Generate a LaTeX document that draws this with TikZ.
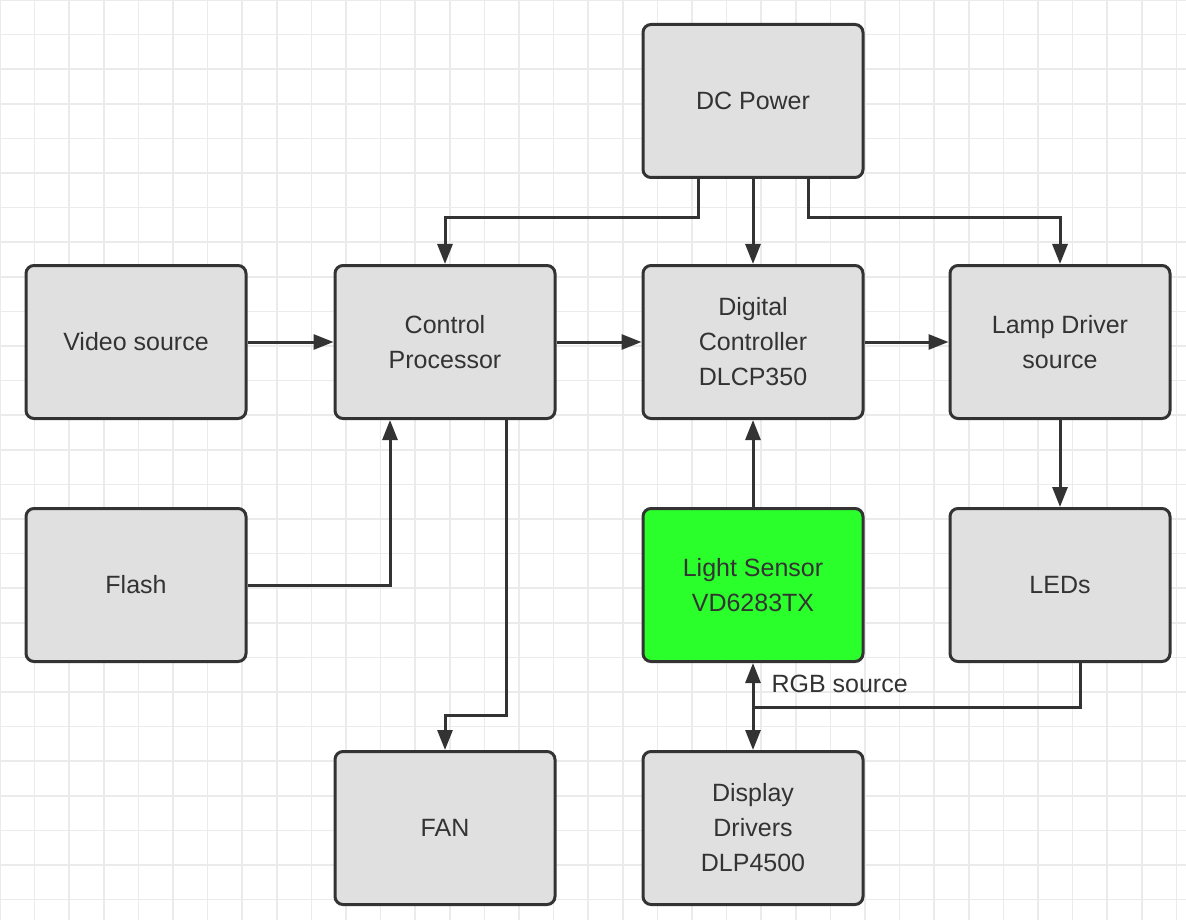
\documentclass[tikz,border=0pt]{standalone}
\usepackage{fontspec}
\setmainfont{Liberation Sans}
\usetikzlibrary{arrows.meta}
\begin{document}
\begin{tikzpicture}[x=1pt,y=-1pt,
  box/.style={draw=black!80,line width=3pt,rounded corners=8pt,fill=black!12,align=center,font=\fontsize{25}{35}\selectfont,text=black!80},
  ar/.style={draw=black!80,line width=3pt,-{Triangle[length=20pt,width=15pt]}}]
\useasboundingbox (0,0) rectangle (1186,920);
\fill[white] (0,0) rectangle (1186,920);
\foreach \x in {0,34.6,...,1186} \draw[black!8,line width=1.5pt] (\x,0) -- (\x,920);
\foreach \y in {0,34.6,...,920} \draw[black!8,line width=1.5pt] (0,\y) -- (1186,\y);
\newcommand{\bx}[4]{\node[box,minimum width=220pt,minimum height=153pt] (#1) at (#2,#3) {#4};}
\bx{dc}{753}{101}{DC Power}
\bx{vid}{136}{342}{Video source}
\bx{cp}{445}{342}{Control\\Processor}
\bx{dig}{753}{342}{Digital\\Controller\\DLCP350}
\bx{lamp}{1060}{342}{Lamp Driver\\source}
\bx{fl}{136}{585}{Flash}
\node[box,fill={rgb,255:red,43;green,255;blue,43},minimum width=220pt,minimum height=153pt] (ls) at (753,585) {Light Sensor\\VD6283TX};
\bx{led}{1060}{585}{LEDs}
\bx{fan}{445}{828}{FAN}
\bx{disp}{753}{828}{Display\\Drivers\\DLP4500}
\coordinate (j) at (753,707);
\draw[ar] (dc.south -| 698,0) |- (445,218) -- (cp.north -| 445,0);
\draw[ar] (dc) -- (dig);
\draw[ar] (dc.south -| 808,0) |- (1060,218) -- (lamp.north -| 1060,0);
\draw[ar] (vid) -- (cp);
\draw[ar] (cp) -- (dig);
\draw[ar] (dig) -- (lamp);
\draw[ar] (fl.east |- 0,585) -| (cp.south -| 390,0);
\draw[ar] (cp.south -| 506,0) |- (445,715) -- (fan.north -| 445,0);
\draw[ar] (ls) -- (dig);
\draw[ar] (lamp) -- (led);
\draw[draw=black!80,line width=3pt] (led.south -| 1080,0) |- (j);
\draw[ar] (j) -- (ls);
\draw[ar] (j) -- (disp);
\node[anchor=west,font=\fontsize{25}{30}\selectfont,text=black!80] (rgb) at (768,684) {RGB source};
\end{tikzpicture}
\end{document}
